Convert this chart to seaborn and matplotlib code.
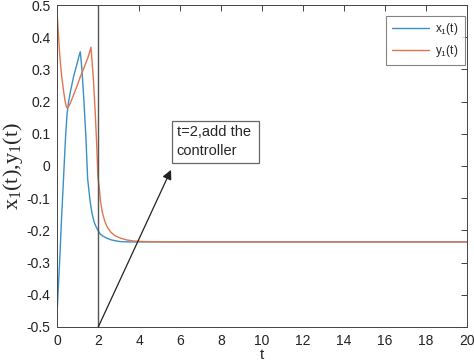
import numpy as np
import pandas as pd
import matplotlib
matplotlib.use("Agg")
import matplotlib.pyplot as plt
import seaborn as sns
from matplotlib.ticker import FuncFormatter

# data
t_x = [0.0, 0.03, 0.06, 0.11, 0.2, 0.3, 0.4, 0.47, 0.55, 0.65, 0.8, 0.95, 1.05, 1.12, 1.2, 1.3, 1.4, 1.48, 1.6, 1.69, 1.8, 1.9, 1.98, 2.1, 2.25, 2.4, 2.6, 2.8, 3.07, 3.5, 4.0, 6.0, 10.0, 15.0, 20.0]
x1 = [-0.44, -0.40, -0.36, -0.30, -0.17, -0.04, 0.09, 0.16, 0.20, 0.235, 0.28, 0.315, 0.34, 0.355, 0.30, 0.20, 0.08, -0.04, -0.11, -0.146, -0.175, -0.19, -0.20, -0.212, -0.219, -0.224, -0.229, -0.232, -0.235, -0.236, -0.236, -0.236, -0.236, -0.236, -0.236]
t_y = [0.0, 0.05, 0.1, 0.15, 0.2, 0.3, 0.38, 0.45, 0.5, 0.6, 0.8, 1.0, 1.12, 1.3, 1.5, 1.64, 1.75, 1.85, 1.92, 1.98, 2.05, 2.1, 2.2, 2.3, 2.42, 2.6, 2.8, 3.07, 3.4, 3.7, 4.2, 6.0, 10.0, 15.0, 20.0]
y1 = [0.465, 0.41, 0.36, 0.32, 0.285, 0.235, 0.20, 0.182, 0.18, 0.19, 0.222, 0.255, 0.277, 0.305, 0.338, 0.369, 0.28, 0.165, 0.07, -0.033, -0.07, -0.106, -0.145, -0.168, -0.188, -0.205, -0.216, -0.224, -0.23, -0.233, -0.235, -0.236, -0.236, -0.236, -0.236]
x_ticks = list(range(0, 21, 2))
y_ticks = [-0.5, -0.4, -0.3, -0.2, -0.1, 0.0, 0.1, 0.2, 0.3, 0.4, 0.5]
series_names = ["x$\\mathregular{_1}$(t)", "y$\\mathregular{_1}$(t)"]
annot_text = "t=2,add the \ncontroller"
t_switch = 2

sns.set_style("white")
plt.rcParams['font.family'] = ['Liberation Sans', 'DejaVu Sans']

df = pd.concat([
    pd.DataFrame({"t": t_x, "v": x1, "s": series_names[0]}),
    pd.DataFrame({"t": t_y, "v": y1, "s": series_names[1]}),
])

fig = plt.figure(figsize=(4.74, 3.64), dpi=100)
ax = fig.add_axes([0.121, 0.102, 0.864, 0.884])
sns.lineplot(data=df, x="t", y="v", hue="s", palette=["#3a8fc6", "#e07550"],
             linewidth=1.0, ax=ax, sort=False, estimator=None)

ax.plot([t_switch, t_switch], [-0.5, 0.5], color="#555555", linewidth=1.0)
ax.annotate("", xy=(5.55, -0.012), xytext=(t_switch, -0.5),
            arrowprops=dict(arrowstyle="-|>", color="#222222", lw=0.9,
                            mutation_scale=14, shrinkA=0, shrinkB=0))
ax.text(5.82, 0.075, annot_text, fontsize=10.5, va="center", ha="left",
        linespacing=1.45,
        bbox=dict(boxstyle="square,pad=0.3", fc="white", ec="#666666", lw=0.9))

ax.set_xlim(0, 20)
ax.set_ylim(-0.5, 0.5)
ax.set_xticks(x_ticks)
ax.set_yticks(y_ticks)
ax.yaxis.set_major_formatter(FuncFormatter(lambda v, p: "0" if abs(v) < 1e-9 else f"{v:.1f}"))
ax.tick_params(direction="in", length=4, width=0.6, top=True, right=True,
               labelsize=10, colors="#222222", pad=5)
for s in ax.spines.values():
    s.set_color("#444444")
    s.set_linewidth(0.7)

ax.set_xlabel("t", fontsize=11, labelpad=0)
ax.set_ylabel("x$\\mathregular{_1}$(t),y$\\mathregular{_1}$(t)", fontsize=16,
              family="Liberation Serif", labelpad=1)

leg = ax.legend(loc="upper right", fontsize=8.5, frameon=True, fancybox=False,
                handlelength=3.2, handletextpad=0.5, borderpad=0.5, labelspacing=0.5,
                borderaxespad=0.2, bbox_to_anchor=(1.0, 0.975))
leg.get_frame().set_edgecolor("#666666")
leg.get_frame().set_linewidth(0.8)

fig.savefig("out.png", dpi=100)
